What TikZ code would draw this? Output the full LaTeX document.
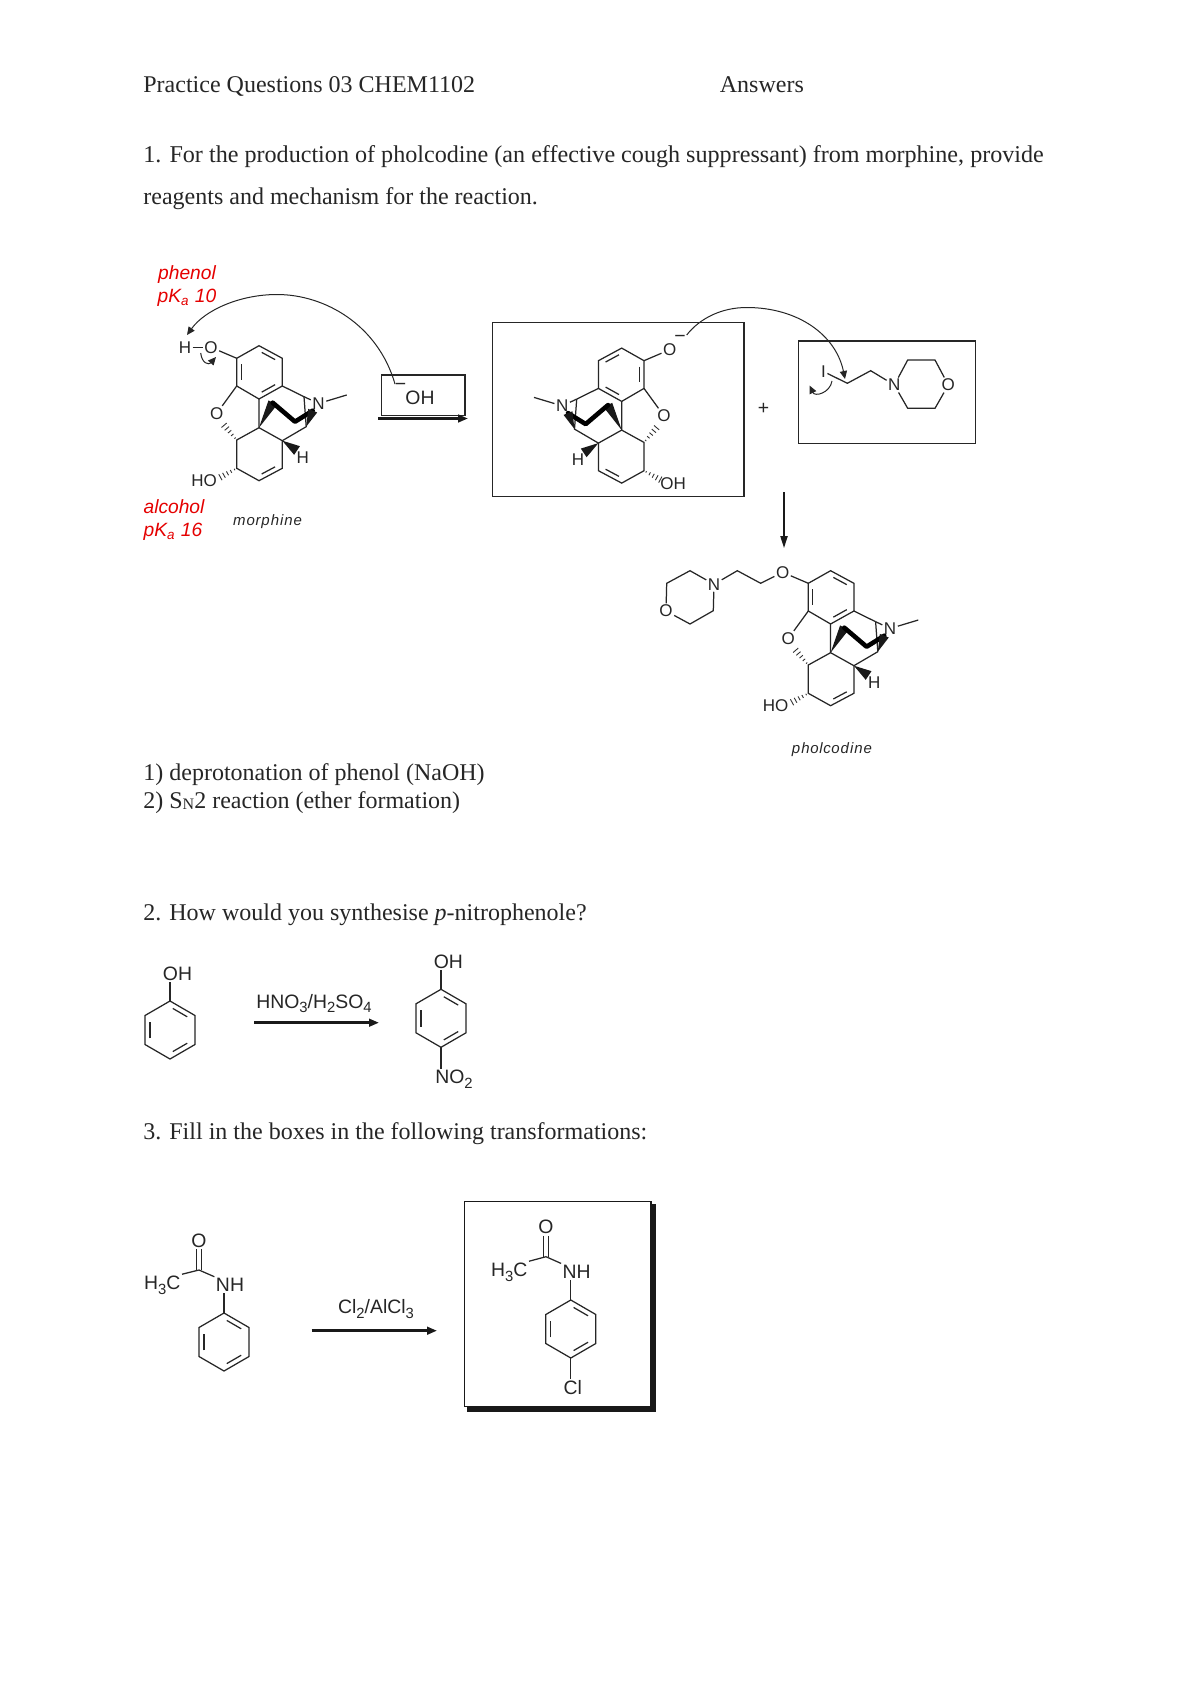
\documentclass[tikz,border=0pt]{standalone}
\usepackage{fontspec}
\setmainfont{Liberation Serif}
\setsansfont{Liberation Sans}
\usetikzlibrary{calc,arrows.meta}
\tikzset{
  bond/.style={line width=.62pt,draw=black!85},
  boldbond/.style={line width=2.3pt,line join=round,line cap=round},
  lab/.style={font=\sffamily\fontsize{8.5}{8.5}\selectfont,inner sep=.6pt,text=black!85},
  bigl/.style={font=\sffamily\fontsize{9.7}{9.7}\selectfont,inner sep=.6pt,text=black!85},
  red lab/.style={font=\sffamily\itshape\fontsize{9.6}{9.6}\selectfont,inner sep=0pt,text=red!90!black},
  name lab/.style={font=\sffamily\itshape\fontsize{7.5}{7.5}\selectfont,inner sep=0pt,text=black!85},
  txt/.style={font=\rmfamily\fontsize{12}{12}\selectfont,inner sep=0pt,anchor=base west,text=black!85},
  boxline/.style={line width=.65pt,draw=black!85},
  rxn/.style={line width=1.3pt,draw=black!90,-{Triangle[length=5pt,width=3.8pt]}},
  curly/.style={line width=.5pt,draw=black!85,-{Triangle[length=4pt,width=3.6pt]}},
}
\newcommand{\sbs}[1]{\raisebox{-.24em}{\fontsize{7.4}{7.4}\selectfont #1}}
\newcommand{\dbl}[3]{\draw[bond] ($($(#1)!.14!(#2)$)!.2!(#3)$) -- ($($(#2)!.14!(#1)$)!.2!(#3)$);}
\newcommand{\wedgeb}[3]{\fill[black!90] (#1) -- ($(#2)!#3!90:(#1)$) -- ($(#2)!#3!-90:(#1)$) -- cycle;}
\newcommand{\hashb}[2]{\foreach \tt/\ww in {.12/.4pt,.32/.8pt,.52/1.1pt,.72/1.4pt,.92/1.7pt}{\draw[line width=.45pt,black!80] ($(#1)!\tt!(#2)!\ww!90:(#2)$) -- ($(#1)!\tt!(#2)!\ww!-90:(#2)$);}}
% benzene ring: prefix, centre x, centre y
\newcommand{\benz}[3]{%
  \coordinate (#1c) at (#2,#3);
  \coordinate (#1a) at ({#2},{#3-29});
  \coordinate (#1b) at ({#2+25},{#3-14.5});
  \coordinate (#1d) at ({#2},{#3+29});
  \coordinate (#1k) at ({#2+25},{#3+14.5});
  \coordinate (#1e) at ({#2-25},{#3+14.5});
  \coordinate (#1f) at ({#2-25},{#3-14.5});
  \draw[bond] (#1a)--(#1b)--(#1k)--(#1d)--(#1e)--(#1f)--cycle;
  \dbl{#1a}{#1b}{#1c}\dbl{#1k}{#1d}{#1c}\dbl{#1e}{#1f}{#1c}}
% morphinan skeleton: scope options, prefix, hydroxyl text, hydroxyl label shift
\newcommand{\opiate}[4]{%
\begin{scope}[#1]
  \coordinate (#2c3) at (236.7,358.3);
  \coordinate (#2c2) at (259,345.7);
  \coordinate (#2c1) at (282.3,358.3);
  \coordinate (#2c11) at (282.3,386);
  \coordinate (#2c12) at (259,399);
  \coordinate (#2c4) at (236.7,386);
  \coordinate (#2ra) at (259.5,372);
  \coordinate (#2c5) at (236.7,440);
  \coordinate (#2c13) at (259,427.7);
  \coordinate (#2c14) at (282.3,440.7);
  \coordinate (#2c6) at (236.7,468.3);
  \coordinate (#2c7) at (259,480.7);
  \coordinate (#2c8) at (282.3,468.3);
  \coordinate (#2rb) at (259.5,454);
  \coordinate (#2ch) at (304,396.7);
  \coordinate (#2me) at (346.7,395);
  \coordinate (#2b1) at (272.7,402.7);
  \coordinate (#2b2) at (295,421.7);
  \coordinate (#2b3) at (312.7,410.7);
  \coordinate (#2b4) at (306.2,426.7);
  \coordinate (#2wh) at (297,450.5);
  \coordinate (#2hx) at (223,424);
  \coordinate (#2hy) at (219,478);
  \node[lab] (#2oa) at (211,347.3) {O};
  \node[lab] (#2ob) at (216.7,413.5) {O};
  \node[lab] (#2n) at (318.5,403.5) {N};
  \node[lab] (#2h) at (302.7,457.5) {H};
  \node[lab,xshift=#4,yshift=-1.5pt] (#2oh) at (#2hy) {#3};
  \draw[bond] (#2oa)--(#2c3);
  \draw[bond] (#2c3)--(#2c2)--(#2c1)--(#2c11)--(#2c12)--(#2c4)--cycle;
  \draw[bond] (#2c4)--(#2ob);
  \dbl{#2c2}{#2c1}{#2ra}\dbl{#2c11}{#2c12}{#2ra}\dbl{#2c3}{#2c4}{#2ra}
  \draw[bond] (#2c12)--(#2c13)--(#2c5)--(#2c6)--(#2c7)--(#2c8)--(#2c14)--(#2c13);
  \dbl{#2c7}{#2c8}{#2rb}
  \draw[bond] (#2c11)--(#2ch);
  \draw[bond] (#2ch)--(#2n)--(#2me);
  \draw[bond] (#2ch)--(#2b4)--(#2c14);
  \hashb{#2c5}{#2hx}
  \hashb{#2c6}{#2hy}
  \wedgeb{#2c13}{#2b1}{2.4pt}
  \draw[boldbond] (#2b1)--(#2b2)--(#2b3);
  \wedgeb{#2b4}{#2b3}{2.4pt}
  \wedgeb{#2c14}{#2wh}{2.6pt}
\end{scope}}
\begin{document}
\begin{tikzpicture}[x=.5pt,y=-.5pt]
\useasboundingbox (0,0) rectangle (1200,1696);
\fill[white] (0,0) rectangle (1200,1696);
% ---- text
\node[txt] (t1) at (143,93) {Practice Questions 03 CHEM1102};
\node[txt] (t2) at (719.5,93) {Answers};
\node[txt,font=\rmfamily\fontsize{12.06}{12.06}\selectfont] (t3) at (143,163) {1. For the production of pholcodine (an effective cough suppressant) from morphine, provide};
\node[txt] (t4) at (143,205) {reagents and mechanism for the reaction.};
\node[txt] (t5) at (143,780) {1) deprotonation of phenol (NaOH)};
\node[txt] (t6) at (143,808) {2) S\raisebox{-.5pt}{\fontsize{8}{8}\selectfont N}2 reaction (ether formation)};
\node[txt] (t7) at (143,920) {2. How would you synthesise \textit{p}-nitrophenole?};
\node[txt] (t8) at (143,1139) {3. Fill in the boxes in the following transformations:};
% ---- morphine
\opiate{}{m}{HO}{-7.5pt}
\node[lab] (mH) at (185,347.3) {H};
\draw[bond] (mH)--(moa);
\coordinate (cs) at (200.7,353);
\coordinate (ce) at (216,357);
\draw[curly] (cs) .. controls (202,364) and (209,365) .. (ce);
\node[red lab] (phen) at (187,275) {phenol};
\node[red lab] (pk1) at (187,298) {pK\textsubscript{a} 10};
\node[red lab] (alc) at (174,507) {alcohol};
\node[red lab] (pk2) at (173,532) {pK\textsubscript{a} 16};
\node[name lab] (mname) at (267.5,521.5) {m\kern.5pt o\kern.4pt r\kern.4pt p\kern.5pt h\kern.5pt i\kern.5pt n\kern.4pt e};
% hydroxide box
\coordinate (ob1) at (381.7,375);
\coordinate (ob2) at (465,415.7);
\draw[boxline] (ob1) rectangle (ob2);
\node[bigl] (oh) at (420,398) {OH};
\node[bigl] (ohm) at (400.5,387) {\textminus};
\coordinate (ra) at (378,418.5);
\coordinate (rb) at (468,418.5);
\draw[rxn] (ra)--(rb);
\coordinate (ha) at (395,384);
\coordinate (hm) at (277,294.5);
\coordinate (hb) at (187,335);
\draw[curly] (ha) .. controls (378,325) and (325,294.5) .. (hm) .. controls (240,294.5) and (205,310) .. (hb);
% ---- phenoxide
\coordinate (b2a) at (492.3,322.7);
\coordinate (b2b) at (744,496.7);
\draw[boxline] (b2a) rectangle (b2b);
\opiate{shift={(880.7,2.4)},xscale=-1}{p}{OH}{5.7pt}
\node[bigl] (ominus) at (680,339) {\textminus};
\node[bigl] (plus) at (763.5,408.5) {+};
% ---- iodide box
\coordinate (b3a) at (798.3,341);
\coordinate (b3b) at (975.7,443.3);
\draw[boxline] (b3a) rectangle (b3b);
\node[lab] (iod) at (823.5,371.5) {I};
\coordinate (i1) at (847.3,383.3);
\coordinate (i2) at (870.7,370.7);
\node[lab] (in) at (894.3,385) {N};
\coordinate (i3) at (907.7,360);
\coordinate (i4) at (935,360);
\node[lab] (io) at (948.3,385) {O};
\coordinate (i5) at (935,408.3);
\coordinate (i6) at (907.7,408.3);
\draw[bond] (iod)--(i1)--(i2)--(in);
\draw[bond] (in)--(i3)--(i4)--(io);
\draw[bond] (io)--(i5)--(i6)--(in);
\coordinate (a2s) at (686.7,335);
\coordinate (a2m) at (746.7,307.5);
\coordinate (a2e) at (845,379);
\draw[curly] (a2s) .. controls (700,318) and (722,307.5) .. (a2m) .. controls (798,307.5) and (836,335) .. (a2e);
\coordinate (a3s) at (832,381);
\coordinate (a3e) at (809.5,385.5);
\draw[curly] (a3s) .. controls (830,393) and (815,397) .. (a3e);
% ---- reaction arrow down
\coordinate (da) at (784,492);
\coordinate (db) at (784,548);
\draw[line width=.75pt,black!90,-{Triangle[length=6pt,width=3.6pt]}] (da)--(db);
% ---- pholcodine
\opiate{shift={(571.6,225)}}{q}{HO}{-7.5pt}
\coordinate (q1) at (760.7,583.3);
\coordinate (q2) at (737.3,570.7);
\node[lab] (qn) at (714,584.3) {N};
\coordinate (q3) at (690,570.7);
\coordinate (q4) at (666.7,583.3);
\node[lab] (qo) at (666,611) {O};
\coordinate (q5) at (690,624);
\coordinate (q6) at (713.3,610.7);
\draw[bond] (qoa)--(q1)--(q2)--(qn);
\draw[bond] (qn)--(q3)--(q4)--(qo);
\draw[bond] (qo)--(q5)--(q6)--(qn);
\node[name lab] (qname) at (832,749.5) {p\kern.5pt h\kern.4pt o\kern.3pt l\kern.3pt c\kern.3pt o\kern.5pt d\kern.5pt i\kern.5pt n\kern.5pt e};
% ---- Q2
\benz{x}{170}{1030}
\node[bigl] (xoh) at (177.5,973.5) {OH};
\draw[bond] (xa)--(xoh.south -| xa);
\coordinate (r2a) at (254,1022.7);
\coordinate (r2b) at (379,1022.7);
\draw[rxn] (r2a)--(r2b);
\node[bigl] (r2l) at (314,1003.5) {HNO\sbs{3}/H\sbs{2}SO\sbs{4}};
\benz{y}{441}{1018.3}
\node[bigl] (yoh) at (448.3,961.7) {OH};
\draw[bond] (ya)--(yoh.south -| ya);
\node[bigl] (yno) at (454,1079.5) {NO\sbs{2}};
\draw[bond] (yd)--(yno.north -| yd);
% ---- Q3
\benz{u}{224}{1342}
\node[bigl] (uch) at (162.3,1285) {H\sbs{3}C};
\node[bigl] (unh) at (230,1285) {NH};
\node[bigl] (uo) at (199,1240.7) {O};
\coordinate (uc) at (199,1270);
\draw[bond] (uch.north east)--(uc)--(unh.north west);
\draw[bond] ($(uo.south)+(-2.5,0)$)--($(uc)+(-2.5,0)$) ($(uo.south)+(2.5,0)$)--($(uc)+(2.5,0)$);
\draw[bond] (unh.south -| ua)--(ua);
\coordinate (r3a) at (311.7,1330.7);
\coordinate (r3b) at (437,1330.7);
\draw[rxn] (r3a)--(r3b);
\node[bigl] (r3l) at (376,1309) {Cl\sbs{2}/AlCl\sbs{3}};
\coordinate (sa) at (464.7,1201.7);
\coordinate (sb) at (651,1406.7);
\draw[line width=.75pt,black!90] (sa) rectangle (sb);
\coordinate (sc) at (653.5,1204);
\coordinate (sd) at (653.5,1409.5);
\coordinate (se) at (467,1409.5);
\draw[line width=2.2pt,black!90] (sc)--(sd)--(se);
\benz{v}{570.8}{1329}
\node[bigl] (vch) at (509.3,1272) {H\sbs{3}C};
\node[bigl] (vnh) at (576.7,1271.7) {NH};
\node[bigl] (vo) at (546,1227.3) {O};
\coordinate (vcc) at (546,1256.7);
\draw[bond] (vch.north east)--(vcc)--(vnh.north west);
\draw[bond] ($(vo.south)+(-2.5,0)$)--($(vcc)+(-2.5,0)$) ($(vo.south)+(2.5,0)$)--($(vcc)+(2.5,0)$);
\draw[bond] (vnh.south -| va)--(va);
\node[bigl] (vcl) at (572.7,1387.5) {Cl};
\draw[bond] (vd)--(vcl.north -| vd);
\end{tikzpicture}
\end{document}
